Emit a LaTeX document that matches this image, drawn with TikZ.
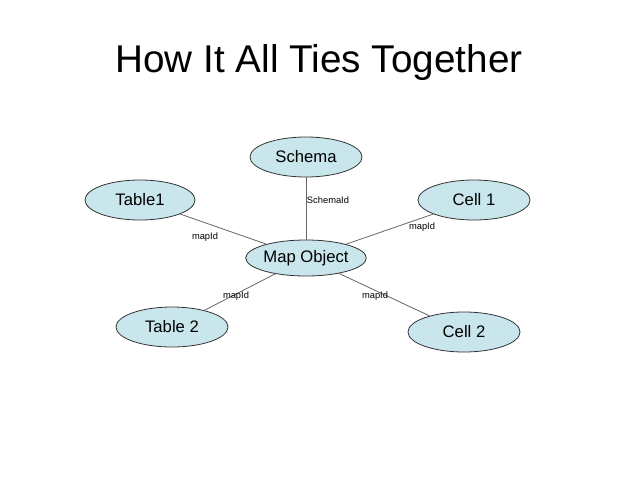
\documentclass[tikz,border=0pt]{standalone}
\usepackage{fontspec}
\setmainfont{Liberation Sans}
\usetikzlibrary{shapes.geometric}
\definecolor{ellfill}{RGB}{200,230,236}
\begin{document}
\begin{tikzpicture}[x=0.75pt,y=-0.75pt,
  ell/.style={ellipse,draw=black!80,fill=ellfill,line width=0.6pt,minimum width=#1*0.75pt,minimum height=30pt,inner sep=0pt,font=\fontsize{12.5}{14}\selectfont},
  conn/.style={draw=black!60,line width=0.6pt},
  lab/.style={font=\fontsize{7}{8}\selectfont,inner sep=1pt}]
\useasboundingbox (0,0) rectangle (638,478);
\node (title) at (319,63) {\fontsize{29}{34}\selectfont How It All Ties Together};
\node[ell=112] (schema) at (306,157) {Schema};
\node[ell=110] (t1) at (140,200) {Table1};
\node[ell=112] (c1) at (474,200) {Cell 1};
\node[ell=100,minimum height=27pt] (map) at (306,258) {Map Object};
\node[ell=112] (t2) at (172,327) {Table 2};
\node[ell=112] (c2) at (464,332) {Cell 2};
\draw[conn] (schema) -- (map);
\draw[conn] (t1) -- (map);
\draw[conn] (c1) -- (map);
\draw[conn] (t2) -- (map);
\draw[conn] (c2) -- (map);
\node[lab] (l1) at (328,200) {SchemaId};
\node[lab] (l2) at (205,237) {mapId};
\node[lab] (l3) at (422,227) {mapId};
\node[lab] (l4) at (236,296) {mapId};
\node[lab] (l5) at (375,296) {mapId};
\end{tikzpicture}
\end{document}
